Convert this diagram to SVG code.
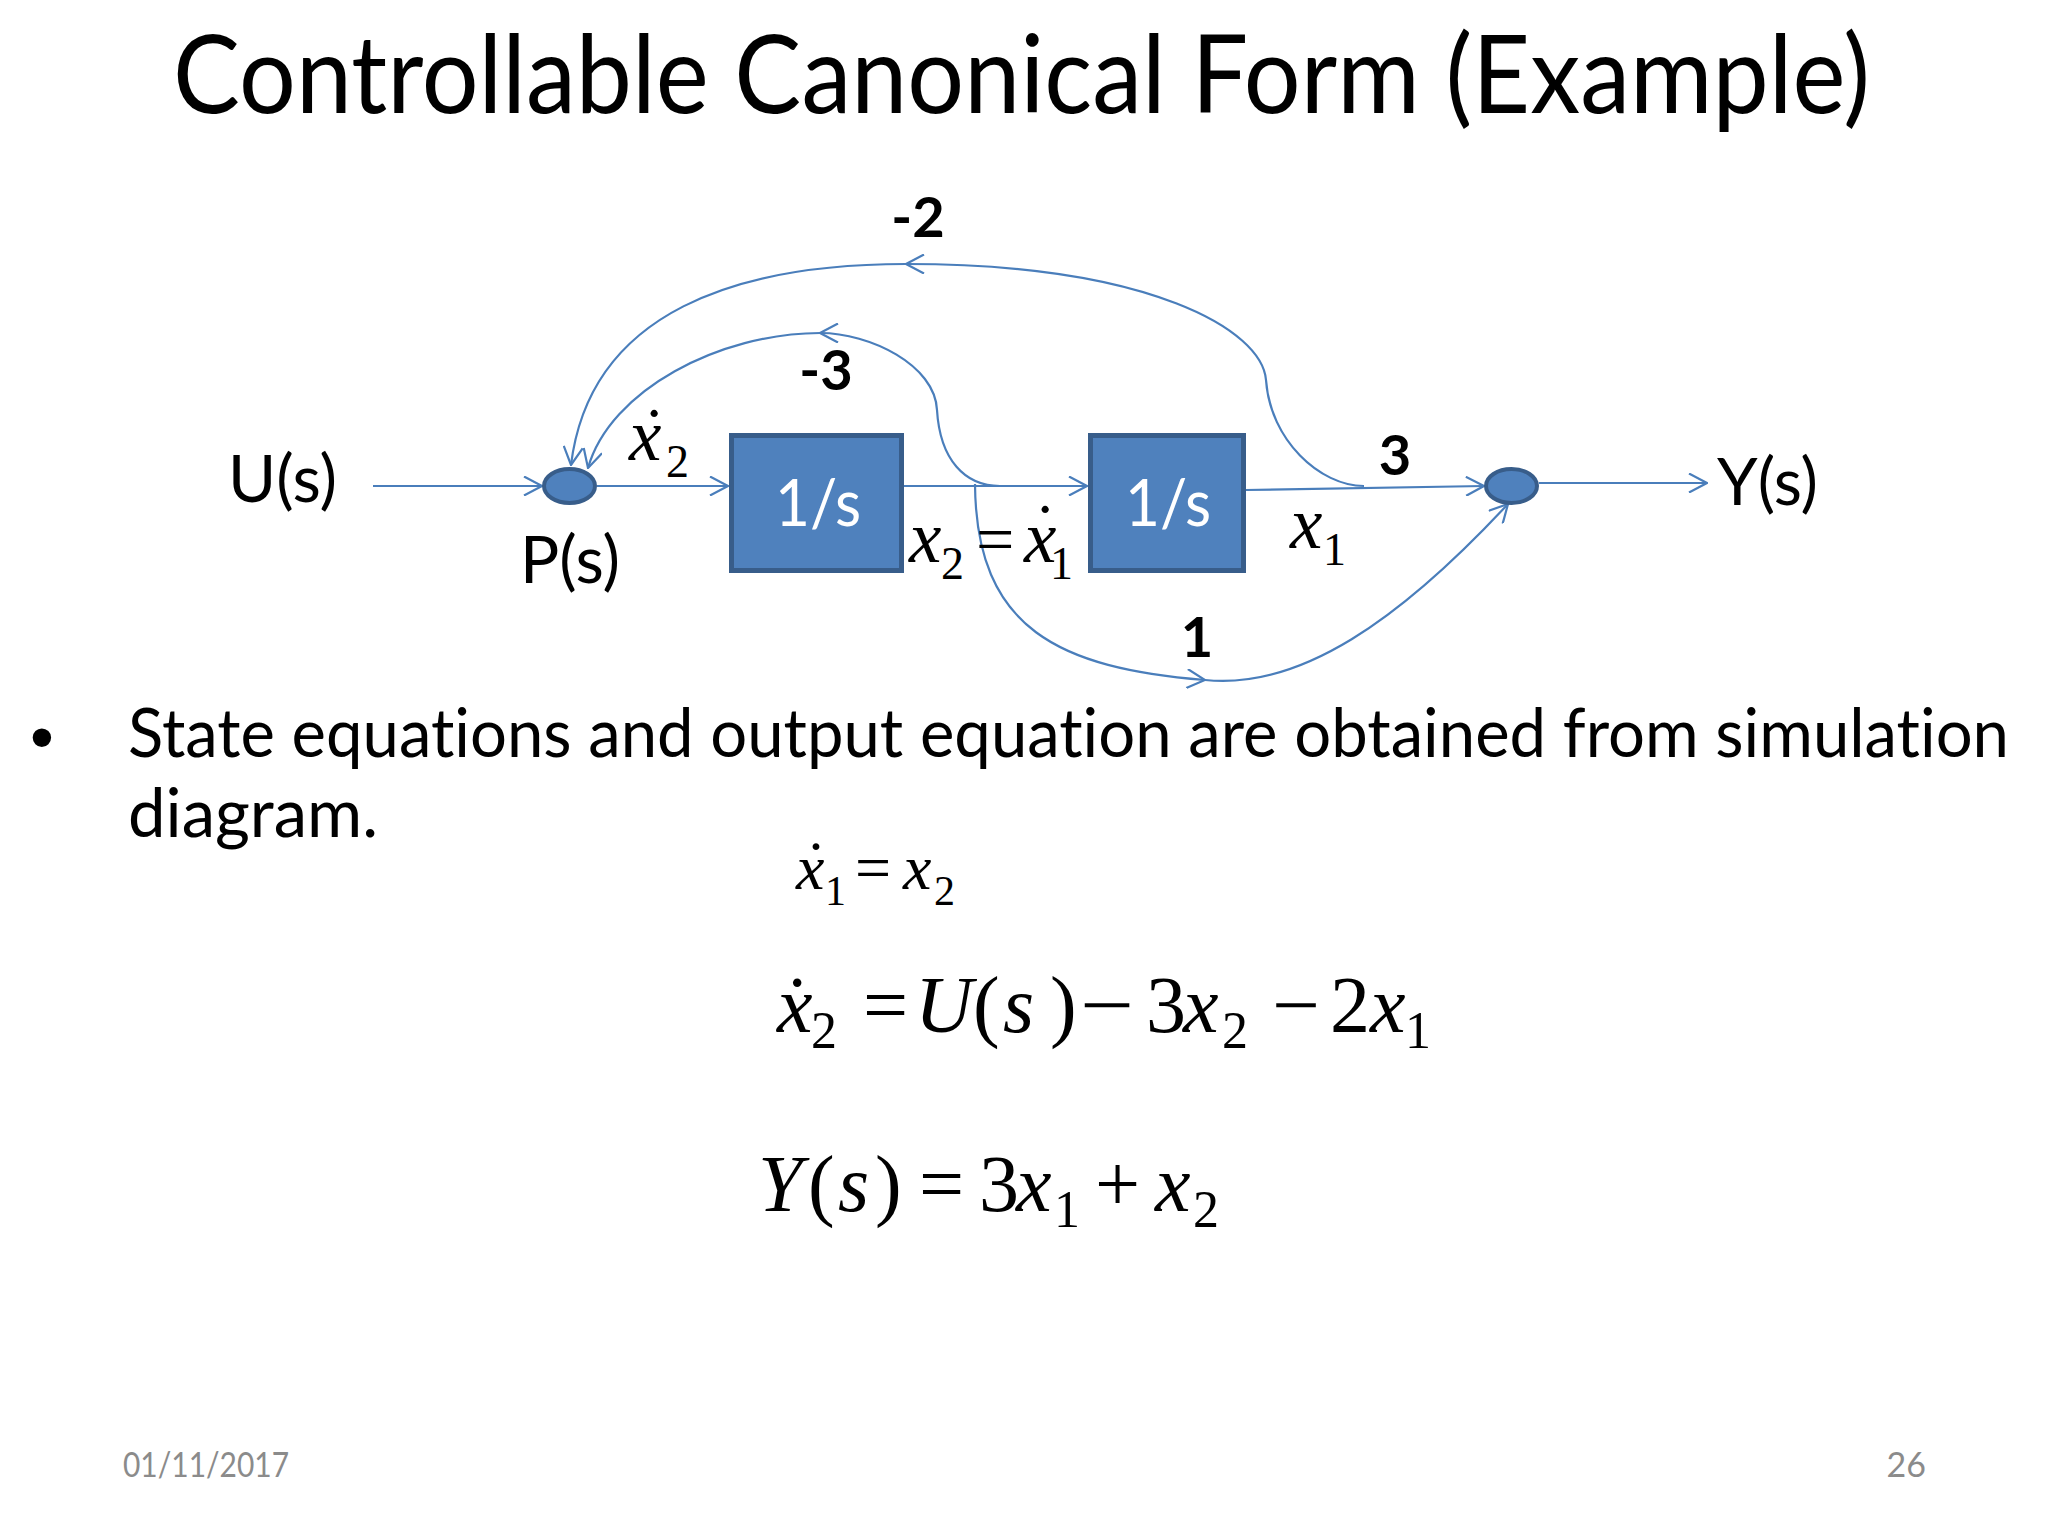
<svg xmlns="http://www.w3.org/2000/svg" width="2048" height="1536" viewBox="0 0 2048 1536">
  <style>
    .sans { font-family: Lato, "Open Sans", "Liberation Sans", sans-serif; fill: #000; font-variant-ligatures: none; font-feature-settings: "liga" 0, "dlig" 0, "clig" 0; }
    .bold { font-family: Lato, "Liberation Sans", sans-serif; font-weight: bold; font-size: 56px; fill: #000; text-anchor: middle; }
    .math { font-family: "Liberation Serif", "Times New Roman", serif; fill: #000; }
    .it { font-style: italic; }
    .blk { fill: #4F81BD; stroke: #385D8A; stroke-width: 5; }
    .sum { fill: #4F81BD; stroke: #385D8A; stroke-width: 4; }
    .wire { fill: none; stroke: #4A7EBB; stroke-width: 2.2; }
    .blktxt { font-family: Lato, "Liberation Sans", sans-serif; font-size: 66px; fill: #fff; }
    .foot { font-family: Lato, "Liberation Sans", sans-serif; font-size: 34px; fill: #8B8B8B; }
  </style>
  <defs>
    <marker id="arr" viewBox="0 0 20 20" refX="19" refY="10" markerWidth="20" markerHeight="20" markerUnits="userSpaceOnUse" orient="auto">
      <path d="M1,0.5 L19,10 L1,19.5" fill="none" stroke="#4A7EBB" stroke-width="2.2"/>
    </marker>
  </defs>
  <rect width="2048" height="1536" fill="#fff"/>

  <text id="title" class="sans" x="173" y="113" font-size="108" textLength="1697" lengthAdjust="spacingAndGlyphs">Controllable Canonical Form (Example)</text>

  <g id="connectors">
    <path class="wire" d="M373,486 L542,486" marker-end="url(#arr)"/>
    <path class="wire" d="M597,486 L728,486" marker-end="url(#arr)"/>
    <path class="wire" d="M904,486 L1087,486" marker-end="url(#arr)"/>
    <path class="wire" d="M1246,490 L1484,486" marker-end="url(#arr)"/>
    <path class="wire" d="M1539,483 L1707,483" marker-end="url(#arr)"/>
    <!-- -3 feedback -->
    <path class="wire" d="M1000,486 C965,486 940,460 937,410 C935,365 870,333 820,333" marker-end="url(#arr)"/>
    <path class="wire" d="M820,333 C720,333 610,390 588,468" marker-end="url(#arr)"/>
    <!-- -2 feedback -->
    <path class="wire" d="M1364,486 C1320,486 1270,440 1266,380 C1262,330 1150,264 906,264" marker-end="url(#arr)"/>
    <path class="wire" d="M906,264 C740,264 590,310 571,465" marker-end="url(#arr)"/>
    <!-- 1 feedforward -->
    <path class="wire" d="M975,484 C976,630 1060,668 1205,680" marker-end="url(#arr)"/>
    <path class="wire" d="M1205,680 C1300,690 1400,620 1508,504" marker-end="url(#arr)"/>
  </g>

  <g id="node-U">
    <text class="sans" x="228" y="502" font-size="66" textLength="109" lengthAdjust="spacingAndGlyphs">U(s)</text>
  </g>
  <g id="node-P">
    <ellipse class="sum" cx="569.5" cy="486" rx="25.5" ry="17"/>
    <text class="sans" x="520" y="583" font-size="66" textLength="100" lengthAdjust="spacingAndGlyphs">P(s)</text>
  </g>
  <g id="node-block1">
    <rect class="blk" x="731.5" y="435.5" width="170" height="135"/>
    <text class="blktxt" x="775" y="526" textLength="86" lengthAdjust="spacingAndGlyphs">1/s</text>
  </g>
  <g id="node-block2">
    <rect class="blk" x="1090.5" y="435.5" width="153" height="135"/>
    <text class="blktxt" x="1125" y="526" textLength="86" lengthAdjust="spacingAndGlyphs">1/s</text>
  </g>
  <g id="node-sum2">
    <ellipse class="sum" cx="1511.5" cy="486" rx="25.5" ry="17"/>
  </g>
  <g id="node-Y">
    <text class="sans" x="1717" y="505" font-size="66" textLength="101" lengthAdjust="spacingAndGlyphs">Y(s)</text>
  </g>

  <g id="gains">
    <text class="bold" x="918" y="237">-2</text>
    <text class="bold" x="826" y="390">-3</text>
    <text class="bold" x="1395" y="475">3</text>
    <text class="bold" x="1197" y="657">1</text>
  </g>

  <g id="signal-labels" class="math">
    <text font-size="73"><tspan class="it" x="629" y="460">x</tspan><tspan x="666" y="477" font-size="46">2</tspan></text>
    <text font-size="68" x="654" y="455" text-anchor="middle">˙</text>
    <text font-size="73"><tspan class="it" x="909" y="562">x</tspan><tspan x="941" y="579" font-size="46">2</tspan><tspan x="976" y="562" font-size="68">=</tspan><tspan class="it" x="1024" y="562">x</tspan><tspan x="1050" y="579" font-size="46">1</tspan></text>
    <text font-size="68" x="1045" y="551" text-anchor="middle">˙</text>
    <text font-size="73"><tspan class="it" x="1290" y="548">x</tspan><tspan x="1323" y="565" font-size="46">1</tspan></text>
  </g>

  <g id="body">
    <text font-family="'Liberation Sans', sans-serif" font-size="68" x="42" y="760" text-anchor="middle">•</text>
    <text class="sans" x="128" y="757" font-size="68" textLength="1881" lengthAdjust="spacingAndGlyphs">State equations and output equation are obtained from simulation</text>
    <text class="sans" x="128" y="837" font-size="68" textLength="250" lengthAdjust="spacingAndGlyphs">diagram.</text>
  </g>

  <g id="equations" class="math">
    <text font-size="64"><tspan class="it" x="796" y="889">x</tspan><tspan x="825" y="905" font-size="42">1</tspan><tspan x="855" y="889">=</tspan><tspan class="it" x="903" y="889">x</tspan><tspan x="934" y="905" font-size="42">2</tspan></text>
    <text font-size="64" x="816" y="885" text-anchor="middle">˙</text>

    <text font-size="80"><tspan class="it" x="777" y="1032">x</tspan><tspan x="811" y="1048" font-size="52">2</tspan><tspan x="863" y="1032">=</tspan><tspan class="it" x="915" y="1032">U</tspan><tspan x="973" y="1032">(</tspan><tspan class="it" x="1003" y="1032">s</tspan><tspan x="1050" y="1032">)</tspan><tspan x="1146" y="1032">3</tspan><tspan class="it" x="1183" y="1032">x</tspan><tspan x="1222" y="1048" font-size="52">2</tspan><tspan x="1330" y="1032">2</tspan><tspan class="it" x="1370" y="1032">x</tspan><tspan x="1405" y="1048" font-size="52">1</tspan></text>
    <text font-size="80" x="1080" y="1032" textLength="54" lengthAdjust="spacingAndGlyphs">−</text>
    <text font-size="80" x="1272" y="1032" textLength="48" lengthAdjust="spacingAndGlyphs">−</text>
    <text font-size="80" x="797" y="1032" text-anchor="middle">˙</text>

    <text font-size="80"><tspan class="it" x="758" y="1211">Y</tspan><tspan x="808" y="1211">(</tspan><tspan class="it" x="838" y="1211">s</tspan><tspan x="875" y="1211">)</tspan><tspan x="919" y="1211">=</tspan><tspan x="979" y="1211">3</tspan><tspan class="it" x="1016" y="1211">x</tspan><tspan x="1054" y="1227" font-size="52">1</tspan><tspan x="1095" y="1211">+</tspan><tspan class="it" x="1155" y="1211">x</tspan><tspan x="1193" y="1227" font-size="52">2</tspan></text>
  </g>

  <g id="footer">
    <text class="foot" x="123" y="1477" textLength="166" lengthAdjust="spacingAndGlyphs">01/11/2017</text>
    <text class="foot" x="1926" y="1477" text-anchor="end">26</text>
  </g>
</svg>
